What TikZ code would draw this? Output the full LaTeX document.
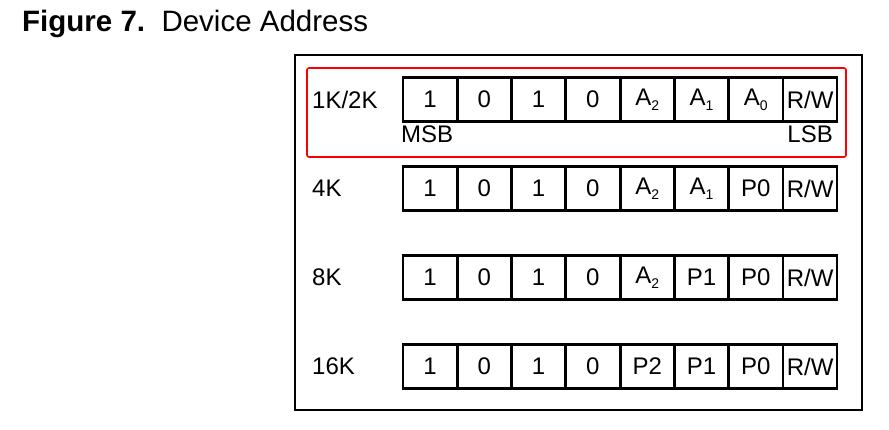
\documentclass[tikz,border=0pt]{standalone}
\usepackage{fontspec}
\setmainfont{Liberation Sans}
\begin{document}
\begin{tikzpicture}[x=1pt,y=-1pt,
  cell/.style={draw,line width=2.6pt,minimum width=54pt,minimum height=44pt,inner sep=0pt,font=\fontsize{24}{24}\selectfont},
  lbl/.style={anchor=west,inner sep=0pt,font=\fontsize{24}{24}\selectfont}]
\useasboundingbox (0,0) rectangle (889,429);
\node[anchor=west,inner sep=0pt,font=\fontsize{29.5}{29.5}\selectfont] (title) at (22,24) {\textbf{Figure 7.}\ \ Device Address};
\draw[line width=2pt] (295,55) rectangle (862,410);
\draw[red,line width=1.6pt,rounded corners=2pt] (307,68) rectangle (846,157);
\newcommand\sbs[1]{{\fontsize{14}{14}\selectfont\raisebox{-5pt}{#1}}}
\foreach \r/\lab/\a/\b/\c/\y in {1/1K\slash 2K/A\sbs{2}/A\sbs{1}/A\sbs{0}/99.5, 2/4K/A\sbs{2}/A\sbs{1}/P0/188.5, 3/8K/A\sbs{2}/P1/P0/277.5, 4/16K/P2/P1/P0/366.5}{
  \node[lbl] (l\r) at (312,\y) {\lab};
  \foreach \i/\t in {0/1,1/0,2/1,3/0,4/\a,5/\b,6/\c,7/{R\slash W}}{
    \node[cell] (c\r\i) at (430+\i*54.3,\y) {\t};
  }
}
\node[lbl,anchor=north west] (msb) at (401,126) {MSB};
\node[lbl,anchor=north east] (lsb) at (833,126) {LSB};
\end{tikzpicture}
\end{document}
